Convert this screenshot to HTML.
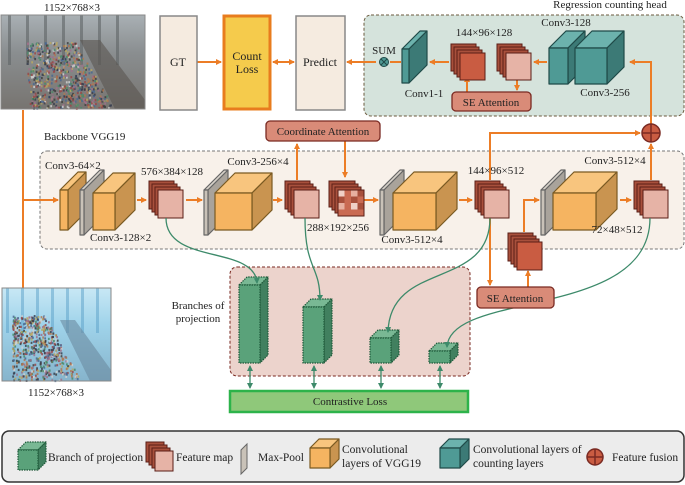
<!DOCTYPE html>
<html><head><meta charset="utf-8"><style>
html,body{margin:0;padding:0;background:#fff;}
svg{display:block;}
text{font-family:"Liberation Serif",serif;fill:#222;}
</style></head><body>
<svg id="s" width="685" height="485" viewBox="0 0 685 485" xmlns="http://www.w3.org/2000/svg">
<defs>
<marker id="ao" markerWidth="6" markerHeight="6" refX="5" refY="3" orient="auto" markerUnits="userSpaceOnUse"><path d="M0,0 L6,3 L0,6 z" fill="#ec7d26"/></marker>
<marker id="ag" markerWidth="6" markerHeight="6" refX="5" refY="3" orient="auto" markerUnits="userSpaceOnUse"><path d="M0,0 L6,3 L0,6 z" fill="#3d8a6a"/></marker>
<marker id="agb" markerWidth="6" markerHeight="6" refX="1" refY="3" orient="auto" markerUnits="userSpaceOnUse"><path d="M6,0 L0,3 L6,6 z" fill="#3d8a6a"/></marker>
<marker id="aob" markerWidth="6" markerHeight="6" refX="1" refY="3" orient="auto" markerUnits="userSpaceOnUse"><path d="M6,0 L0,3 L6,6 z" fill="#ec7d26"/></marker>
<linearGradient id="ph1" x1="0" y1="0" x2="0" y2="1"><stop offset="0" stop-color="#a9b0b4"/><stop offset="0.4" stop-color="#8a8e90"/><stop offset="1" stop-color="#777470"/></linearGradient>
<linearGradient id="ph2" x1="0" y1="0" x2="0" y2="1"><stop offset="0" stop-color="#c8e8f5"/><stop offset="0.4" stop-color="#9fd3ea"/><stop offset="1" stop-color="#86b4cc"/></linearGradient>
</defs>
<rect x="364" y="15" width="320" height="101" rx="7" fill="#d5e3dc" stroke="#6b5a3e" stroke-dasharray="3,2"/>
<rect x="40" y="151" width="644" height="98" rx="7" fill="#f8f1ea" stroke="#777" stroke-dasharray="3,2"/>
<rect x="230" y="267" width="240" height="109" rx="7" fill="#ecd3cc" stroke="#7a2a22" stroke-dasharray="3,2"/>
<rect x="2" y="431" width="682" height="51" rx="7" fill="#ececec" stroke="#333" stroke-width="1.5"/>
<g id="g"></g>
<rect x="1" y="15" width="144" height="94" fill="url(#ph1)"/>
<rect x="2" y="288" width="109" height="93" fill="url(#ph2)"/>
<g id="dots"></g>
<rect x="1" y="15" width="144" height="94" fill="none" stroke="#888"/>
<rect x="2" y="288" width="109" height="93" fill="none" stroke="#888"/>
<rect x="160" y="16" width="37" height="94" fill="#f5ebe0" stroke="#888" stroke-width="1.5"/>
<rect x="224" y="16" width="46" height="93" fill="#f5cb4c" stroke="#e87c1e" stroke-width="3"/>
<rect x="296" y="16" width="49" height="94" fill="#f5ebe0" stroke="#888" stroke-width="1.5"/>
<rect x="266" y="121" width="114" height="20" rx="4" fill="#d98b78" stroke="#7a2a22" stroke-width="1.3"/>
<rect x="452" y="92" width="79" height="19" rx="4" fill="#d98b78" stroke="#7a2a22" stroke-width="1.3"/>
<rect x="477" y="287" width="77" height="21" rx="4" fill="#d98b78" stroke="#7a2a22" stroke-width="1.3"/>
<rect x="230" y="391" width="238" height="21" fill="#8fc87a" stroke="#2db34a" stroke-width="2.5"/>
<g font-size="11">
<text x="72" y="11" text-anchor="middle">1152×768×3</text>
<text x="56" y="396" text-anchor="middle">1152×768×3</text>
<text x="178" y="66" text-anchor="middle" font-size="12">GT</text>
<text x="247" y="60" text-anchor="middle" font-size="12">Count</text>
<text x="247" y="73" text-anchor="middle" font-size="12">Loss</text>
<text x="320" y="66" text-anchor="middle" font-size="12">Predict</text>
<text x="610" y="8" text-anchor="middle">Regression counting head</text>
<text x="384" y="54" text-anchor="middle">SUM</text>
<text x="424" y="97" text-anchor="middle">Conv1-1</text>
<text x="484" y="36" text-anchor="middle">144×96×128</text>
<text x="491" y="106" text-anchor="middle">SE Attention</text>
<text x="566" y="26" text-anchor="middle">Conv3-128</text>
<text x="605" y="96" text-anchor="middle">Conv3-256</text>
<text x="323" y="135" text-anchor="middle">Coordinate Attention</text>
<text x="44" y="140">Backbone VGG19</text>
<text x="45" y="169">Conv3-64×2</text>
<text x="90" y="241">Conv3-128×2</text>
<text x="172" y="175" text-anchor="middle">576×384×128</text>
<text x="258" y="165" text-anchor="middle">Conv3-256×4</text>
<text x="338" y="231" text-anchor="middle">288×192×256</text>
<text x="412" y="243" text-anchor="middle">Conv3-512×4</text>
<text x="496" y="174" text-anchor="middle">144×96×512</text>
<text x="615" y="164" text-anchor="middle">Conv3-512×4</text>
<text x="617" y="233" text-anchor="middle">72×48×512</text>
<text x="515" y="302" text-anchor="middle">SE Attention</text>
<text x="198" y="309" text-anchor="middle">Branches of</text>
<text x="198" y="322" text-anchor="middle">projection</text>
<text x="350" y="405" text-anchor="middle">Contrastive Loss</text>
</g>
<g font-size="11.5">
<text x="48" y="461">Branch of projection</text>
<text x="176" y="461">Feature map</text>
<text x="258" y="461">Max-Pool</text>
<text x="342" y="453">Convolutional</text>
<text x="342" y="467">layers of VGG19</text>
<text x="473" y="453">Convolutional layers of</text>
<text x="473" y="467">counting layers</text>
<text x="612" y="461">Feature fusion</text>
</g>
</svg>
<script>
var NS="http://www.w3.org/2000/svg",G=document.getElementById('g');
function el(t,a,p){var e=document.createElementNS(NS,t);for(var k in a)e.setAttribute(k,a[k]);(p||G).appendChild(e);return e;}
function cube(x,y,w,h,d,f,t,s,st,dash){var o={stroke:st,'stroke-width':1.2,'stroke-linejoin':'round'};if(dash)o['stroke-dasharray']='1.5,1';
el('polygon',Object.assign({points:[x,y,x+d,y-d,x+w+d,y-d,x+w,y].join(' '),fill:t},o));
el('polygon',Object.assign({points:[x+w,y,x+w+d,y-d,x+w+d,y+h-d,x+w,y+h].join(' '),fill:s},o));
el('rect',Object.assign({x:x,y:y,width:w,height:h,fill:f},o));}
function oc(x,y,w,h,d){cube(x,y,w,h,d,'#f5b461','#f8c57e','#c99450','#7a5a22');}
function mp(x,y,h,d){cube(x,y,4,h,d,'#c9c2b8','#d8d2ca','#a9a39b','#666');}
function tc(x,y,w,h,d){cube(x,y,w,h,d,'#4f9a95','#6cb2ad','#3c7a76','#1f4a48');}
function gc(x,y,w,h,d){cube(x,y,w,h,d,'#5aa27a','#79b894','#41805f','#1f5a3a',1);}
function fm(x,y,w,h,c){for(var i=0;i<4;i++){var o=(3-i)*3;el('rect',{x:x+o*-1+9,y:y-o+9,width:w,height:h,fill:i==3?c:'#a8503c',stroke:'#5a1e16','stroke-width':1});}}
function ln(pts,m,c,w){var a={points:pts.join(' '),fill:'none',stroke:c||'#ec7d26','stroke-width':w||2};if(m)a['marker-end']='url(#'+m+')';return el('polyline',a);}
function cv(d){return el('path',{d:d,fill:'none',stroke:'#3d8a6a','stroke-width':1.3,'marker-end':'url(#ag)'});}
ln([23,110,23,290]);ln([23,200,58,200],'ao');
ln([197,62,221,62],'ao');var a=ln([273,62,294,62],'ao');a.setAttribute('marker-start','url(#aob)');
ln([376,62,347,62],'ao');ln([401,62,390,62]);
ln([449,62,430,62],'ao');ln([467,92,467,77],'ao');ln([517,77,517,90],'ao');ln([547,62,534,62],'ao');
ln([651,124,651,62,630,62],'ao');ln([651,180,651,144],'ao');ln([490,180,490,133,640,133],'ao');
ln([297,180,297,144],'ao');ln([345,141,345,177],'ao');
ln([137,200,146,200],'ao');ln([186,200,202,200],'ao');ln([273,200,282,200],'ao');ln([362,200,378,200],'ao');ln([459,200,472,200],'ao');
ln([490,218,490,285],'ao');ln([528,287,528,271],'ao');ln([524,232,524,200,539,200],'ao');ln([620,200,631,200],'ao');
cube(60,190,8,40,18,'#f5b461','#f8c57e','#c99450','#7a5a22');mp(80,190,45,20);oc(93,193,22,37,20);
fm(149,181,25,28,'#e6b3a6');mp(204,190,45,20);oc(215,193,37,37,20);
fm(285,181,25,28,'#e6b3a6');
for(var i=0;i<4;i++){var o=(3-i)*3;el('rect',{x:329-o+9,y:181-o+9,width:26,height:26,fill:'#a8503c',stroke:'#5a1e16'});}
var cols=['#f0d0c6','#c96a52','#e7b0a0','#a8503c'];
for(var r=0;r<4;r++)for(var c=0;c<4;c++)el('rect',{x:338+c*6.5,y:190+r*6.5,width:6.5,height:6.5,fill:cols[(r*3+c*5+r*c)%4]});
el('rect',{x:338,y:190,width:26,height:26,fill:'none',stroke:'#5a1e16'});
mp(380,190,45,20);oc(393,193,43,37,21);
fm(475,181,25,28,'#e6b3a6');fm(508,233,25,28,'#c95c42');
mp(541,190,45,20);oc(553,193,43,37,21);fm(634,181,25,28,'#e6b3a6');
tc(402,49,7,34,18);tc(549,48,19,36,17);tc(575,48,32,36,17);
fm(451,44,25,27,'#c95c42');fm(497,44,25,27,'#e6b3a6');
el('circle',{cx:384,cy:62,r:4.5,fill:'#4f9a95',stroke:'#1f4a48'});
el('path',{d:'M381,59 L387,65 M387,59 L381,65',stroke:'#1f4a48','stroke-width':1});
el('circle',{cx:651,cy:133,r:9,fill:'#c95c42',stroke:'#7a2a22','stroke-width':1.5});
el('path',{d:'M642,133 H660 M651,124 V142',stroke:'#7a2a22','stroke-width':1.5});
gc(239,285,21,78,8);gc(303,307,21,56,8);gc(370,338,21,25,8);gc(429,351,21,12,8);
[250,314,381,440].forEach(function(x){var l=ln([x,366,x,388],'ag','#3d8a6a',1.3);l.setAttribute('marker-start','url(#agb)');});
cv('M166,218 C166,265 255,245 257,283');cv('M305,218 C305,270 320,265 320,300');
cv('M490,218 C490,290 390,260 388,332');cv('M650,218 C650,320 450,290 447,347');
gc(18,450,20,20,8);fm(146,442,18,20,'#e6b3a6');
el('polygon',{points:'241,450 247,444 247,468 241,474',fill:'#c9c2b8',stroke:'#666'});
oc(310,448,20,20,9);tc(440,448,20,20,9);
el('circle',{cx:595,cy:457,r:8,fill:'#c95c42',stroke:'#7a2a22','stroke-width':1.5});
el('path',{d:'M587,457 H603 M595,449 V465',stroke:'#7a2a22','stroke-width':1.5});
var D=document.getElementById('dots'),seed=7;function rnd(){seed=(seed*16807)%2147483647;return seed/2147483647;}
var pal=['#3a4050','#9a4848','#b8a860','#4a6890','#d0d0d0','#4a8a68','#a07088','#404040','#b07850'];
for(var i=0;i<7;i++)el('rect',{x:8+i*18,y:15,width:3,height:50,fill:'#5f6466',opacity:0.6},D);
el('polygon',{points:'80,40 100,40 145,100 145,109 115,109',fill:'#5a5550',opacity:0.6},D);
for(var i=0;i<700;i++){var t=rnd();var x0=25+t*5,x1=75+t*40;var x=x0+rnd()*(x1-x0),y=42+t*66;el('rect',{x:x,y:y,width:1.8,height:2.2,fill:pal[Math.floor(rnd()*9)],opacity:0.85},D);}
for(var i=0;i<7;i++)el('rect',{x:6+i*15,y:288,width:3,height:45,fill:'#5aa0c8',opacity:0.5},D);
el('polygon',{points:'60,320 75,320 111,370 111,381 90,381',fill:'#6a8aa0',opacity:0.6},D);
for(var i=0;i<600;i++){var t=rnd();var x0=12,x1=45+t*35;var x=x0+rnd()*(x1-x0),y=315+t*65;el('rect',{x:x,y:y,width:1.8,height:2.2,fill:pal[Math.floor(rnd()*9)],opacity:0.85},D);}
</script>
</body></html>
